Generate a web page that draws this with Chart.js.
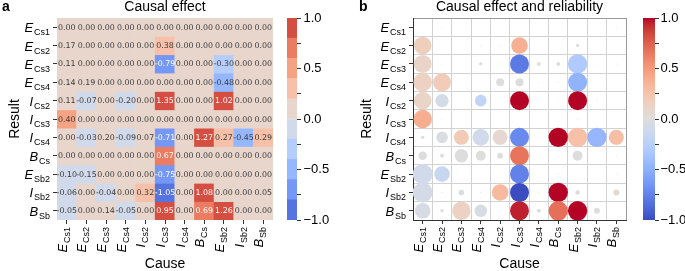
<!DOCTYPE html>
<html>
<head>
<meta charset="utf-8">
<script src="https://cdn.jsdelivr.net/npm/chart.js@4.4.1/dist/chart.umd.min.js"></script>
<style>
html,body{margin:0;padding:0;background:#fff;width:685px;height:271px;overflow:hidden;}
canvas{position:absolute;top:0;}
</style>
</head>
<body>
<canvas id="heat" width="280" height="271" style="left:0px"></canvas>
<canvas id="cbarA" width="57" height="271" style="left:280px"></canvas>
<canvas id="bub" width="296" height="271" style="left:340px"></canvas>
<canvas id="cbarB" width="49" height="271" style="left:636px"></canvas>
<script>
// ---------------- DATA ----------------
const categories = ['E_Cs1','E_Cs2','E_Cs3','E_Cs4','I_Cs2','I_Cs3','I_Cs4','B_Cs','E_Sb2','I_Sb2','B_Sb'];

// causal effect, one array per Result row, columns follow categories (Cause)
const eff_E_Cs1 = [0.00, 0.00, 0.00, 0.00, 0.00, 0.00, 0.00, 0.00, 0.00, 0.00, 0.00];
const eff_E_Cs2 = [0.17, 0.00, 0.00, 0.00, 0.00, 0.38, 0.00, 0.00, 0.00, 0.00, 0.00];
const eff_E_Cs3 = [0.11, 0.00, 0.00, 0.00, 0.00, -0.79, 0.00, 0.00, -0.30, 0.00, 0.00];
const eff_E_Cs4 = [0.14, 0.19, 0.00, 0.00, 0.00, 0.00, 0.00, 0.00, -0.48, 0.00, 0.00];
const eff_I_Cs2 = [0.11, -0.07, 0.00, -0.20, 0.00, 1.35, 0.00, 0.00, 1.02, 0.00, 0.00];
const eff_I_Cs3 = [0.40, 0.00, 0.00, 0.00, 0.00, 0.00, 0.00, 0.00, 0.00, 0.00, 0.00];
const eff_I_Cs4 = [0.00, -0.03, 0.198, -0.09, 0.07, -0.71, 0.00, 1.27, 0.27, -0.45, 0.29];
const eff_B_Cs  = [0.00, 0.00, 0.00, 0.00, 0.00, 0.67, 0.00, 0.00, 0.00, 0.00, 0.00];
const eff_E_Sb2 = [-0.10, -0.15, 0.00, 0.00, 0.00, -0.75, 0.00, 0.00, 0.00, 0.00, 0.00];
const eff_I_Sb2 = [-0.06, 0.00, -0.04, 0.00, 0.32, -1.05, 0.00, 1.08, 0.00, 0.00, 0.05];
const eff_B_Sb  = [-0.05, 0.00, 0.14, -0.05, 0.00, 0.95, 0.00, 0.69, 1.26, 0.00, 0.00];
const effectRows = [eff_E_Cs1, eff_E_Cs2, eff_E_Cs3, eff_E_Cs4, eff_I_Cs2, eff_I_Cs3, eff_I_Cs4, eff_B_Cs, eff_E_Sb2, eff_I_Sb2, eff_B_Sb];

// reliability (0..1), shown as bubble size in panel b
const rel_E_Cs1 = [0, 0.05, 0, 0, 0, 0, 0, 0, 0, 0, 0.05];
const rel_E_Cs2 = [0.88, 0, 0, 0.05, 0.05, 0.83, 0, 0, 0.17, 0, 0];
const rel_E_Cs3 = [0.9, 0.05, 0, 0.17, 0.05, 0.95, 0.2, 0.2, 0.97, 0.05, 0.05];
const rel_E_Cs4 = [0.92, 0.9, 0, 0, 0.4, 0.4, 0.05, 0.05, 0.95, 0, 0];
const rel_I_Cs2 = [0.88, 0.67, 0, 0.58, 0, 0.95, 0.05, 0.05, 0.95, 0.05, 0];
const rel_I_Cs3 = [0.92, 0.05, 0, 0, 0, 0, 0, 0, 0.05, 0, 0];
const rel_I_Cs4 = [0.17, 0.58, 0.75, 0.83, 0.75, 0.95, 0, 0.97, 0.97, 0.97, 0.75];
const rel_B_Cs  = [0.42, 0.2, 0.67, 0.5, 0.3, 0.95, 0, 0.05, 0.5, 0, 0.05];
const rel_E_Sb2 = [1.0, 0.78, 0, 0, 0, 0.95, 0, 0.05, 0, 0, 0.05];
const rel_I_Sb2 = [1.0, 0.05, 0.28, 0.05, 0.83, 0.95, 0.05, 0.97, 0.23, 0, 0.3];
const rel_B_Sb  = [0.78, 0.17, 0.92, 0.62, 0.05, 0.95, 0.2, 0.97, 0.97, 0.3, 0];
const relRows = [rel_E_Cs1, rel_E_Cs2, rel_E_Cs3, rel_E_Cs4, rel_I_Cs2, rel_I_Cs3, rel_I_Cs4, rel_B_Cs, rel_E_Sb2, rel_I_Sb2, rel_B_Sb];

// colorbar
const cbarRange = [-1, 1];
const cbarTicks = [-1, -0.75, -0.5, -0.25, 0, 0.25, 0.5, 0.75, 1];
const cbarLabelTicks = [-1, -0.5, 0, 0.5, 1];
const heatBins = [-1, -0.8, -0.6, -0.4, -0.2, 0, 0.2, 0.4, 0.6, 0.8, 1];

// ---------------- STYLE HELPERS ----------------
const FONT = "'Liberation Sans', Arial, sans-serif";
const CW = [[59,76,192],[68,90,204],[77,104,215],[87,117,225],[98,130,234],[108,142,241],[119,154,247],[130,165,251],[141,176,254],[152,185,255],[163,194,255],[174,201,253],[184,208,249],[194,213,244],[204,217,238],[213,219,230],[221,221,221],[229,216,209],[236,211,197],[241,204,184],[245,196,172],[247,187,160],[247,177,148],[247,166,135],[244,154,123],[241,141,111],[236,127,99],[229,112,88],[222,96,77],[213,80,66],[203,62,56],[192,40,47],[180,4,38]];
function coolwarm(t){
  t = Math.max(0, Math.min(1, t));
  const f = t * 32; const i = Math.min(31, Math.floor(f)); const u = f - i;
  const a = CW[i], b = CW[i+1];
  return [0,1,2].map(k => Math.round(a[k] + (b[k]-a[k]) * u));
}
const rgb = c => `rgb(${c[0]},${c[1]},${c[2]})`;
const palette = Array.from({length:10}, (_, i) => coolwarm((i+1)/11));
function binIndex(v){ return Math.max(0, Math.min(9, Math.floor((v+1)/2*10))); }
function lum(c){
  const l = c.map(x => { x /= 255; return x <= 0.03928 ? x/12.92 : Math.pow((x+0.055)/1.055, 2.4); });
  return 0.2126*l[0] + 0.7152*l[1] + 0.0722*l[2];
}
const fmtCb = v => (v < 0 ? '\u2212' + Math.abs(v).toFixed(1) : v.toFixed(1));

function drawMath(ctx, lab, anchorX, baseY){
  const parts = lab.split('_');
  const L = parts[0], S = parts[1];
  ctx.font = `italic 13px ${FONT}`; const wL = ctx.measureText(L).width;
  ctx.font = `9px ${FONT}`; const wS = ctx.measureText(S).width;
  const gap = 0.8;
  ctx.textAlign = 'left'; ctx.textBaseline = 'alphabetic';
  ctx.font = `italic 13px ${FONT}`; ctx.fillText(L, anchorX - wS - gap - wL, baseY);
  ctx.font = `9px ${FONT}`; ctx.fillText(S, anchorX - wS, baseY + 3);
}
function mathLabels(letter, letterX){
  return {
    id: 'mathLabels',
    afterDraw(chart){
      const ctx = chart.ctx, xs = chart.scales.x, ys = chart.scales.y, area = chart.chartArea;
      ctx.save();
      ctx.fillStyle = '#000';
      categories.forEach((lab, i) => { drawMath(ctx, lab, area.left - 7, ys.getPixelForValue(i) + 5); });
      categories.forEach((lab, i) => {
        ctx.save();
        ctx.translate(xs.getPixelForValue(i), area.bottom + 7);
        ctx.rotate(-Math.PI/2);
        drawMath(ctx, lab, 0, 0);
        ctx.restore();
      });
      ctx.font = `bold 14px ${FONT}`; ctx.textAlign = 'left'; ctx.textBaseline = 'alphabetic';
      ctx.fillText(letter, letterX, 11);
      ctx.restore();
    }
  };
}
const heatAnnot = {
  id: 'heatAnnot',
  afterDatasetsDraw(chart){
    const ctx = chart.ctx;
    ctx.save();
    ctx.font = "7.9px 'DejaVu Sans'"; ctx.textAlign = 'center'; ctx.textBaseline = 'middle';
    effectRows.forEach((row, r) => {
      const meta = chart.getDatasetMeta(r);
      row.forEach((v, c) => {
        const p = meta.data[c].getCenterPoint();
        ctx.fillStyle = lum(palette[binIndex(v)]) < 0.408 ? '#ffffff' : '#3a3a3a';
        ctx.fillText(v.toFixed(2), p.x, p.y + 0.5);
      });
    });
    ctx.restore();
  }
};

const titleFont = {family: FONT, size: 14, weight: 'normal', lineHeight: 1};
const baseOpts = {responsive: false, animation: false, devicePixelRatio: 1};
Chart.defaults.color = '#000';

// ---------------- PANEL A: heatmap ----------------
const heatDatasets = effectRows.map((row, r) => ({
  label: categories[r],
  data: row.map(() => [r - 0.5, r + 0.5]),
  backgroundColor: row.map(v => rgb(palette[binIndex(v)])),
  borderWidth: 0, grouped: false, barPercentage: 1, categoryPercentage: 1
}));
new Chart(document.getElementById('heat'), {
  type: 'bar',
  data: {labels: categories, datasets: heatDatasets},
  options: Object.assign({}, baseOpts, {
    layout: {padding: {left: 0, right: 7, top: 0, bottom: 0}},
    plugins: {
      legend: {display: false}, tooltip: {enabled: false},
      title: {display: true, text: 'Causal effect', fullSize: false, color: '#000', font: titleFont, padding: {top: 0, bottom: 4}}
    },
    scales: {
      x: {type: 'category', offset: true,
          grid: {display: true, offset: false, drawOnChartArea: false, drawTicks: true, tickLength: 4, tickWidth: 1, tickColor: '#333'},
          border: {display: false}, ticks: {display: false},
          title: {display: true, text: 'Cause', color: '#000', font: titleFont, padding: {top: 0, bottom: 0}},
          afterFit: s => { s.height = 51; }},
      y: {type: 'linear', min: -0.5, max: 10.5, reverse: true, stacked: false,
          afterBuildTicks: s => { s.ticks = categories.map((_, i) => ({value: i})); },
          grid: {display: true, drawOnChartArea: false, drawTicks: true, tickLength: 4, tickWidth: 1, tickColor: '#333'},
          border: {display: false}, ticks: {display: false},
          title: {display: true, text: 'Result', color: '#000', font: titleFont, padding: {top: 8, bottom: 0}},
          afterFit: s => { s.width = 57; }}
    }
  }),
  plugins: [heatAnnot, mathLabels('a', 2)]
});

// ---------------- colorbar A (discrete) ----------------
function cbarOptions(width, pad){
  return Object.assign({}, baseOpts, {
    layout: {padding: {left: 7, top: 18, bottom: 51, right: 0}},
    plugins: {legend: {display: false}, tooltip: {enabled: false}},
    scales: {
      x: {display: false, offset: true},
      y: {position: 'right', min: cbarRange[0], max: cbarRange[1], stacked: false,
          afterBuildTicks: s => { s.ticks = cbarTicks.map(v => ({value: v})); },
          ticks: {callback: v => (cbarLabelTicks.includes(v) ? fmtCb(v) : ''), font: {family: FONT, size: 13}, color: '#000', padding: pad},
          grid: {drawOnChartArea: false, drawTicks: true, tickLength: 4, tickWidth: 1, tickColor: '#333'},
          border: {display: false},
          afterFit: s => { s.width = width; }}
    }
  });
}
new Chart(document.getElementById('cbarA'), {
  type: 'bar',
  data: {labels: [''], datasets: palette.map((c, i) => ({
    data: [[heatBins[i], heatBins[i+1]]], backgroundColor: rgb(c), borderWidth: 0,
    grouped: false, barPercentage: 1, categoryPercentage: 1}))},
  options: cbarOptions(40, 2.5)
});

// ---------------- PANEL B: bubble matrix ----------------
const bubblePts = [], bubbleCols = [];
relRows.forEach((row, r) => row.forEach((q, c) => {
  if (q > 0) {
    bubblePts.push({x: c, y: r, r: q * 10});
    const col = coolwarm((effectRows[r][c] + 1) / 2);
    bubbleCols.push(rgb(col));
  }
}));
const halfTicks = [];
for (let i = -1; i < categories.length; i++) { halfTicks.push(i + 0.5); if (i + 1 < categories.length) halfTicks.push(i + 1); }
const isHalf = v => Math.abs(v - Math.round(v)) > 0.25;
const gridCol = ctx => {
  const v = ctx.tick.value;
  if (!isHalf(v)) return 'rgba(0,0,0,0)';
  if (v < 0 || v > categories.length - 1) return '#9a9a9a';
  return '#d2d2d2';
};
const tickCol = ctx => (isHalf(ctx.tick.value) ? 'rgba(0,0,0,0)' : '#333');
new Chart(document.getElementById('bub'), {
  type: 'bubble',
  data: {datasets: [{data: bubblePts, backgroundColor: bubbleCols, borderWidth: 0, hoverRadius: 0}]},
  options: Object.assign({}, baseOpts, {
    layout: {padding: {left: 0, right: 7, top: 0, bottom: 0}},
    plugins: {
      legend: {display: false}, tooltip: {enabled: false},
      title: {display: true, text: 'Causal effect and reliability', fullSize: false, color: '#000', font: titleFont, padding: {top: 0, bottom: 4}}
    },
    scales: {
      x: {type: 'linear', min: -0.5, max: 10.5,
          afterBuildTicks: s => { s.ticks = halfTicks.map(v => ({value: v})); },
          grid: {color: gridCol, tickColor: tickCol, drawTicks: true, tickLength: 4, lineWidth: 1, tickWidth: 1},
          border: {display: true, color: '#333', width: 1}, ticks: {display: false},
          title: {display: true, text: 'Cause', color: '#000', font: titleFont, padding: {top: 0, bottom: 0}},
          afterFit: s => { s.height = 51; }},
      y: {type: 'linear', min: -0.5, max: 10.5, reverse: true,
          afterBuildTicks: s => { s.ticks = halfTicks.map(v => ({value: v})); },
          grid: {color: gridCol, tickColor: tickCol, drawTicks: true, tickLength: 4, lineWidth: 1, tickWidth: 1},
          border: {display: true, color: '#333', width: 1}, ticks: {display: false},
          title: {display: true, text: 'Result', color: '#000', font: titleFont, padding: {top: 20, bottom: 0}},
          afterFit: s => { s.width = 73; }}
    }
  }),
  plugins: [mathLabels('b', 19)]
});

// ---------------- colorbar B (continuous) ----------------
new Chart(document.getElementById('cbarB'), {
  type: 'bar',
  data: {labels: [''], datasets: [{
    data: [cbarRange],
    backgroundColor: ctx => {
      const area = ctx.chart.chartArea;
      if (!area) return 'rgb(221,221,221)';
      const g = ctx.chart.ctx.createLinearGradient(0, area.bottom, 0, area.top);
      CW.forEach((c, i) => g.addColorStop(i / (CW.length - 1), rgb(c)));
      return g;
    },
    borderWidth: 0, barPercentage: 1, categoryPercentage: 1}]},
  options: cbarOptions(30, 1.5)
});
</script>
</body>
</html>
